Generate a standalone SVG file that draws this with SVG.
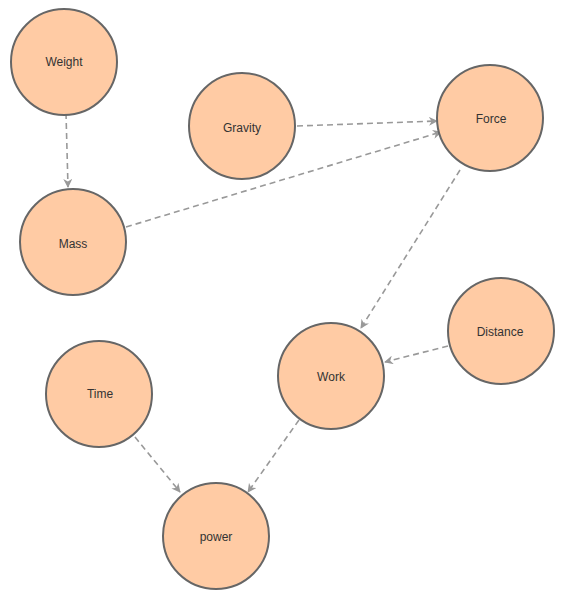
<svg xmlns="http://www.w3.org/2000/svg" width="564" height="600" viewBox="0 0 564 600">
<style>
.n circle{fill:#FFCBA4;stroke:#666;stroke-width:2}
.n text{font-family:"Comic Sans MS","Liberation Sans",sans-serif;font-size:12px;fill:#333;text-anchor:middle;dominant-baseline:central}
.e line{stroke:#999;stroke-width:1.6;stroke-dasharray:6,4;fill:none;marker-end:url(#ah)}
</style>
<defs>
<marker id="ah" viewBox="0 0 10 10" refX="9" refY="5" markerWidth="9" markerHeight="9" markerUnits="userSpaceOnUse" orient="auto">
<path d="M0,0 L10,5 L0,10 L3,5 z" fill="#999"/>
</marker>
</defs>
<rect width="564" height="600" fill="#fff"/>
<g id="edges" class="e">
<line x1="66" y1="113" x2="68" y2="187"/>
<line x1="297" y1="126" x2="437" y2="121"/>
<line x1="126" y1="227" x2="441" y2="132"/>
<line x1="460" y1="170" x2="361" y2="328"/>
<line x1="448" y1="346" x2="385" y2="362"/>
<line x1="135" y1="437" x2="180" y2="492"/>
<line x1="299" y1="420" x2="248" y2="492"/>
</g>
<g id="weight" class="n"><circle cx="64" cy="62" r="53"/><text x="64" y="62">Weight</text></g>
<g id="gravity" class="n"><circle cx="242" cy="126" r="53"/><text x="242" y="128">Gravity</text></g>
<g id="force" class="n"><circle cx="490" cy="118" r="53"/><text x="491" y="119">Force</text></g>
<g id="mass" class="n"><circle cx="73" cy="242" r="53"/><text x="73" y="244">Mass</text></g>
<g id="distance" class="n"><circle cx="501" cy="331" r="53"/><text x="500" y="332">Distance</text></g>
<g id="work" class="n"><circle cx="331" cy="376" r="53"/><text x="331" y="377">Work</text></g>
<g id="time" class="n"><circle cx="99" cy="394" r="53"/><text x="100" y="394">Time</text></g>
<g id="power" class="n"><circle cx="216" cy="536" r="53"/><text x="216" y="537">power</text></g>
</svg>
